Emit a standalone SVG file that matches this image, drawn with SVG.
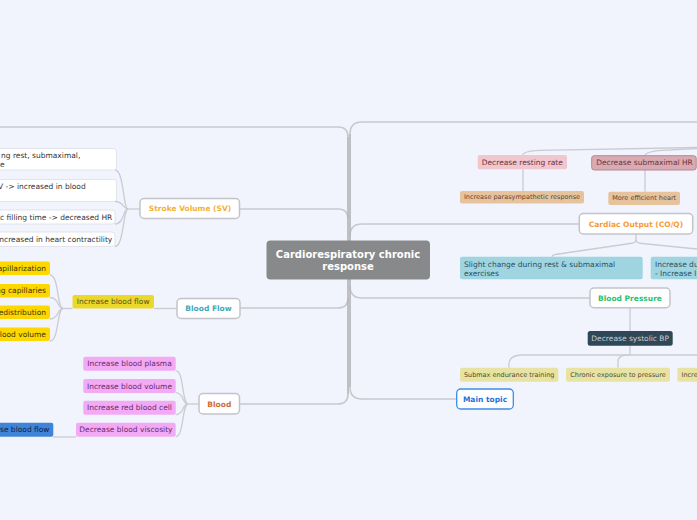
<svg xmlns="http://www.w3.org/2000/svg" width="697" height="520" viewBox="0 0 697 520">
<style>
text{font-family:"DejaVu Sans","Verdana",sans-serif;dominant-baseline:central}
.t{font-size:7.5px}
.s{font-size:6.5px}
.b{font-size:7.5px;font-weight:bold;text-anchor:middle}
.m{text-anchor:middle}
.e{text-anchor:end}
.main{fill:#fff;stroke:#c3c3ca;stroke-width:1.5}
.w{fill:#fff;stroke:#dcdde6;stroke-width:0.8}
.c{fill:none;stroke:#cbcbd2;stroke-width:1.3}
.tr{fill:none;stroke:#c8c8cf;stroke-width:1.6}
.tv{fill:none;stroke:#b3b3b7;stroke-width:1.6}
</style>
<rect width="697" height="520" fill="#f1f4fd"/>
<g id="connectors">
<path class="tr" d="M348,137 Q348,127 338,127 L0,127"/>
<path class="tr" d="M348,219 Q348,209 338,209 L240,209"/>
<path class="tr" d="M348,394 Q348,404 338,404 L240,404"/>
<path class="tr" d="M348,298 Q348,308 338,308 L240,308"/>
<path class="tr" d="M350,134 Q350,122 362,122 L697,122"/>
<path class="tr" d="M350,236 Q350,224 362,224 L579,224"/>
<path class="tr" d="M350,387 Q350,399 362,399 L457,399"/>
<path class="tr" d="M350,286 Q350,298 362,298 L590,298"/>
<path class="tv" d="M348,137 L348,394"/>
<path class="tv" d="M350,134 L350,387"/>
<path class="c" d="M140,209 L128,209"/>
<path class="c" d="M128,209 C123,209 124,170 115,170"/>
<path class="c" d="M128,209 C123,209 124,201.5 115,201.5"/>
<path class="c" d="M128,209 C123,209 124,224 115,224"/>
<path class="c" d="M128,209 C123,209 124,246.5 115,246.5"/>
<path class="c" d="M177,308.5 L154,308.5"/>
<path class="c" d="M72.5,308.5 L63,308.5"/>
<path class="c" d="M63,308.5 C57,308.5 59,275 50,275"/>
<path class="c" d="M63,308.5 C57,308.5 59,297.5 50,297.5"/>
<path class="c" d="M63,308.5 C57,308.5 59,319 50,319"/>
<path class="c" d="M63,308.5 C57,308.5 59,341 50,341"/>
<path class="c" d="M199,404 L188,404"/>
<path class="c" d="M188,404 C182,404 184,370.7 175.7,370.7"/>
<path class="c" d="M188,404 C182,404 184,392.7 175.7,392.7"/>
<path class="c" d="M188,404 C182,404 184,414.7 175.7,414.7"/>
<path class="c" d="M188,404 C182,404 184,436.7 175.7,436.7"/>
<path class="c" d="M53,437 L76,437"/>
<path class="c" d="M523,155 Q523,151 540,150.3 L697,147.5"/>
<path class="c" d="M645,155.7 Q645,151.5 662,150.3 L697,148.5"/>
<path class="c" d="M523,169.3 L523,191"/>
<path class="c" d="M645,170 L645,191.7"/>
<path class="c" d="M636,234 L636,240 Q636,243 630,243.5 L562,253.5 Q552,254.5 552,256.7"/>
<path class="c" d="M636,240 Q636,243 642,243.5 L697,249"/>
<path class="c" d="M630,307.7 L630,331"/>
<path class="c" d="M630,345.7 L630,355"/>
<path class="c" d="M697,355 L522,355 Q509,355.5 509,364 L509,367.7"/>
<path class="c" d="M630,355 L626,355 Q618,355.5 618,362 L618,367.7"/>
</g>
<g id="center">
<rect x="266.5" y="240.5" width="163.5" height="39" rx="4" fill="#88898b"/>
<text x="348" y="254" class="m" style="font-size:10px;font-weight:bold" fill="#fff">Cardiorespiratory chronic</text>
<text x="348" y="266.5" class="m" style="font-size:10px;font-weight:bold" fill="#fff">response</text>
</g>
<g id="stroke-volume">
<rect class="main" x="140" y="198.5" width="99.5" height="20" rx="4"/>
<text x="190" y="208.5" class="b" fill="#f5b03a">Stroke Volume (SV)</text>
</g>
<g id="sv-1">
<rect class="w" x="-5" y="148.5" width="121.5" height="21.5" rx="3"/>
<text x="1" y="155" class="t" fill="#333">ng rest, submaximal,</text>
<text x="0" y="164.3" class="t" fill="#333">e</text>
</g>
<g id="sv-2">
<rect class="w" x="-5" y="179.5" width="121.5" height="22" rx="3"/>
<text x="85.7" y="186.3" class="t e" fill="#333">V -&gt; increased in blood</text>
</g>
<g id="sv-3">
<rect class="w" x="-5" y="210" width="120" height="14" rx="3"/>
<text x="112.3" y="217.3" class="t e" fill="#333">c filling time -&gt; decreased HR</text>
</g>
<g id="sv-4">
<rect class="w" x="-5" y="232" width="120" height="14.5" rx="3"/>
<text x="112.3" y="239.3" class="t e" fill="#333">ncreased in heart contractility</text>
</g>
<g id="blood-flow">
<rect class="main" x="177" y="298.5" width="63" height="20" rx="4"/>
<text x="208.5" y="308.5" class="b" fill="#3ea9bb">Blood Flow</text>
</g>
<g id="increase-blood-flow">
<rect x="72.5" y="295" width="81.5" height="13.5" rx="2" fill="#ebd92a"/>
<text x="113.2" y="301.8" class="t m" fill="#55521a">Increase blood flow</text>
</g>
<g id="bf-1">
<rect x="-5" y="261.5" width="55" height="13.5" rx="2" fill="#fcd800"/>
<text x="46" y="268.3" class="t e" fill="#3c3400">apillarization</text>
</g>
<g id="bf-2">
<rect x="-5" y="284" width="55" height="13.5" rx="2" fill="#fcd800"/>
<text x="46" y="290.8" class="t e" fill="#3c3400">ng capillaries</text>
</g>
<g id="bf-3">
<rect x="-5" y="305.5" width="55" height="13.5" rx="2" fill="#fcd800"/>
<text x="46" y="312.3" class="t e" fill="#3c3400">edistribution</text>
</g>
<g id="bf-4">
<rect x="-5" y="327.5" width="55" height="13.5" rx="2" fill="#fcd800"/>
<text x="46" y="334.3" class="t e" fill="#3c3400">lood volume</text>
</g>
<g id="blood">
<rect class="main" x="199" y="393.5" width="40.5" height="20.5" rx="4"/>
<text x="219.3" y="404" class="b" fill="#d06a35">Blood</text>
</g>
<g id="blood-1">
<rect x="83.3" y="356.7" width="92.4" height="14" rx="2" fill="#f2aaf4"/>
<text x="129.5" y="363.8" class="t m" fill="#6b2770">Increase blood plasma</text>
</g>
<g id="blood-2">
<rect x="83.3" y="378.9" width="92.4" height="14" rx="2" fill="#f2aaf4"/>
<text x="129.5" y="386" class="t m" fill="#6b2770">Increase blood volume</text>
</g>
<g id="blood-3">
<rect x="83.3" y="400.7" width="92.4" height="14" rx="2" fill="#f2aaf4"/>
<text x="129.5" y="407.8" class="t m" fill="#6b2770">Increase red blood cell</text>
</g>
<g id="blood-4">
<rect x="76" y="422.7" width="99.7" height="14" rx="2" fill="#f2aaf4"/>
<text x="125.9" y="429.8" class="t m" fill="#6b2770">Decrease blood viscosity</text>
</g>
<g id="blood-4-1">
<rect x="-5" y="422.7" width="58.3" height="14" rx="2" fill="#3f84d8"/>
<text x="49.5" y="429.8" class="t e" fill="#102040">se blood flow</text>
</g>
<g id="decrease-resting-rate">
<rect x="477.7" y="155" width="89.3" height="14.3" rx="2" fill="#f1c7ce"/>
<text x="522.3" y="162.2" class="t m" fill="#6d2f3b">Decrease resting rate</text>
</g>
<g id="decrease-submaximal-hr">
<rect x="591.7" y="155.7" width="104.5" height="14.3" rx="2.5" fill="#d9aab1" stroke="#b48890" stroke-width="1"/>
<text x="644.5" y="162.9" class="t m" fill="#6a3540">Decrease submaximal HR</text>
</g>
<g id="parasympathetic">
<rect x="460" y="191" width="124" height="12.5" rx="2" fill="#e7c39d"/>
<text x="522" y="197.3" class="s m" fill="#5a4632">Increase parasympathetic response</text>
</g>
<g id="efficient-heart">
<rect x="608.3" y="191.7" width="71.7" height="13.3" rx="2" fill="#e7c39d"/>
<text x="644.2" y="198.4" class="s m" fill="#5a4632">More efficient heart</text>
</g>
<g id="cardiac-output">
<rect class="main" x="579.3" y="213.5" width="113.4" height="20.5" rx="4"/>
<text x="636" y="224" class="b" fill="#f79a3a">Cardiac Output (CO/Q)</text>
</g>
<g id="slight-change">
<rect x="460" y="256.7" width="182.7" height="22.6" rx="2" fill="#9fd4e1"/>
<text x="464" y="264.5" class="t" fill="#2c4f5c">Slight change during rest &amp; submaximal</text>
<text x="464" y="273.5" class="t" fill="#2c4f5c">exercises</text>
</g>
<g id="increase-du">
<rect x="650.7" y="256.7" width="60" height="22.6" rx="2" fill="#9fd4e1"/>
<text x="655" y="264.5" class="t" fill="#2c4f5c">Increase du</text>
<text x="655" y="273.5" class="t" fill="#2c4f5c">- Increase l</text>
</g>
<g id="blood-pressure">
<rect class="main" x="590" y="288" width="80" height="19.7" rx="4"/>
<text x="630" y="298" class="b" fill="#2fbf6d">Blood Pressure</text>
</g>
<g id="decrease-systolic-bp">
<rect x="587.7" y="331" width="85" height="14.7" rx="2.5" fill="#2e4858"/>
<text x="630.2" y="338.4" class="t m" fill="#c5ced6">Decrease systolic BP</text>
</g>
<g id="submax-training">
<rect x="460" y="367.7" width="98.3" height="14" rx="2" fill="#e8e3a2"/>
<text x="509.2" y="374.7" class="s m" fill="#4f4b2c">Submax endurance training</text>
</g>
<g id="chronic-exposure">
<rect x="566" y="367.7" width="104" height="14" rx="2" fill="#e8e3a2"/>
<text x="618" y="374.7" class="s m" fill="#4f4b2c">Chronic exposure to pressure</text>
</g>
<g id="incre">
<rect x="677.3" y="367.7" width="40" height="14" rx="2" fill="#e8e3a2"/>
<text x="681.5" y="374.7" class="s" fill="#4f4b2c">Incre</text>
</g>
<g id="main-topic">
<rect x="456.7" y="389" width="56.6" height="20" rx="4" fill="#fff" stroke="#3b8de6" stroke-width="1.3"/>
<text x="485" y="399" class="b" fill="#1d72d6">Main topic</text>
</g>
</svg>
